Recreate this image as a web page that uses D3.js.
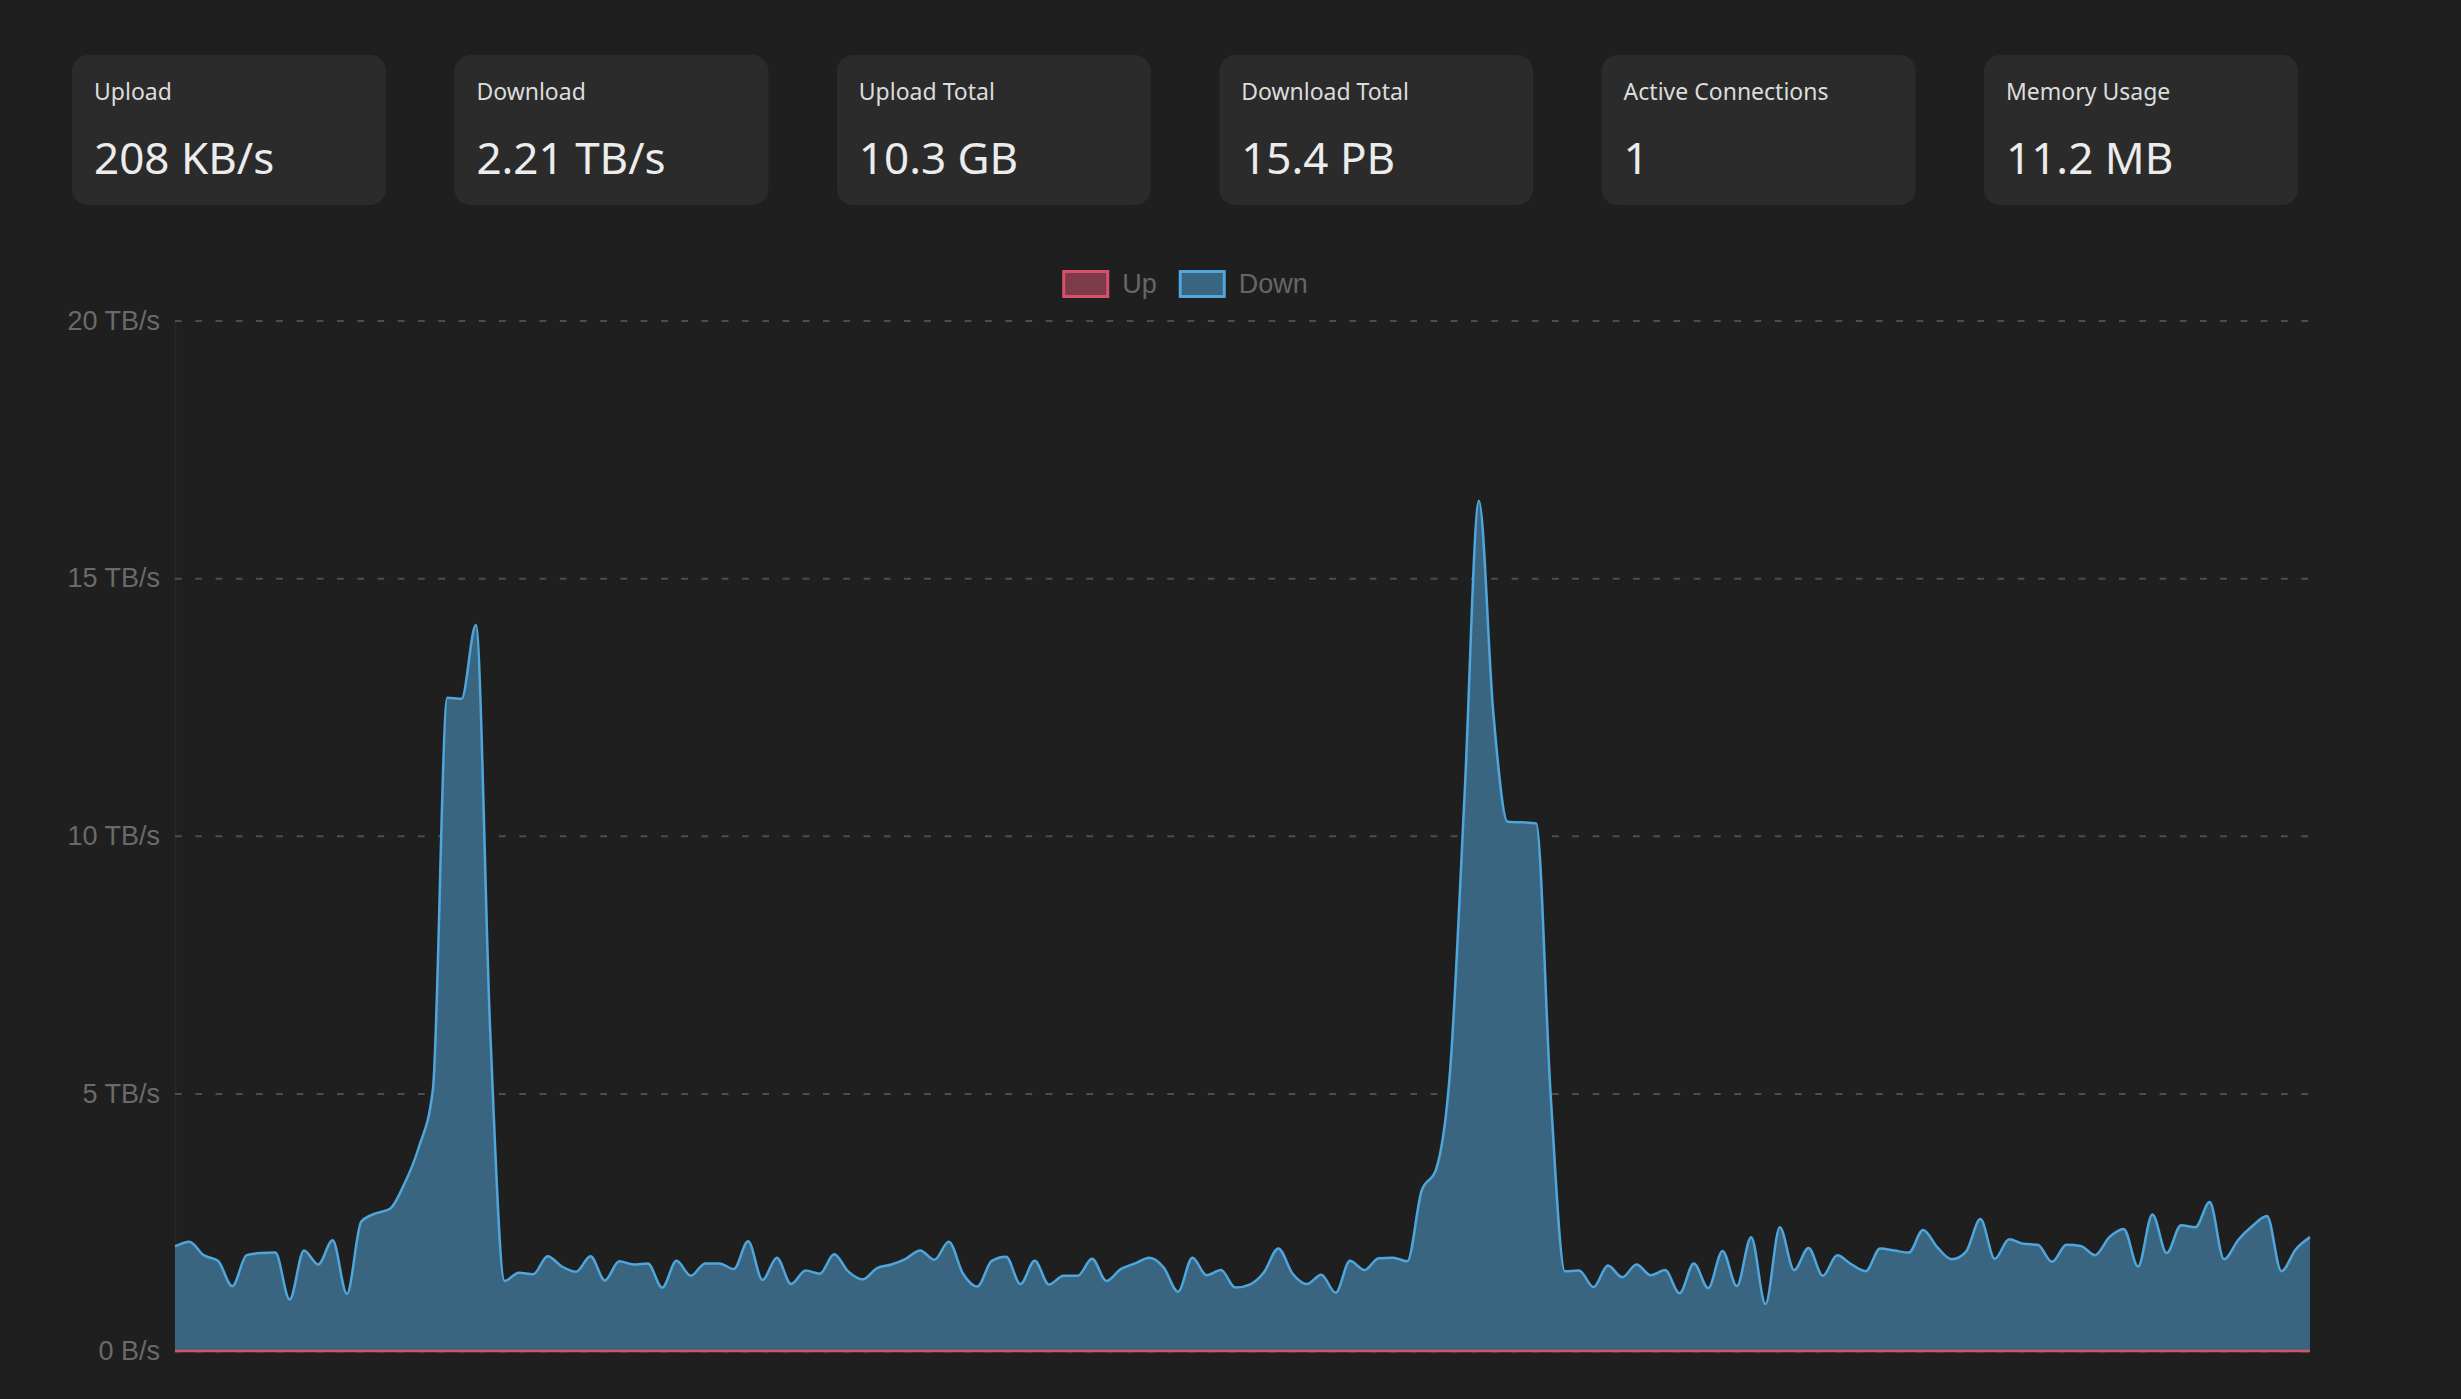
<!DOCTYPE html>
<html>
<head>
<meta charset="utf-8">
<script src="https://cdn.jsdelivr.net/npm/d3@7"></script>
<style>
  html, body { margin: 0; padding: 0; background: #1f1f1f; overflow: hidden; }
  svg { display: block; }
</style>
</head>
<body>
<svg id="chart"></svg>
<script>
// stat cards
var cardLabels = ["Upload", "Download", "Upload Total", "Download Total", "Active Connections", "Memory Usage"];
var cardValues = ["208 KB/s", "2.21 TB/s", "10.3 GB", "15.4 PB", "1", "11.2 MB"];

// legend + y ticks
var seriesNames = ["Up", "Down"];
var yTicks = [0, 5, 10, 15, 20];
var yTickLabels = ["0 B/s", "5 TB/s", "10 TB/s", "15 TB/s", "20 TB/s"];

// traffic, TB/s, one sample per step (150 samples)
var downValues = [
  2.03, 2.12, 1.86, 1.75, 1.26, 1.86, 1.90, 1.91, 1.00, 1.95, 1.68, 2.15, 1.11, 2.51, 2.67,
  2.76, 3.24, 3.94, 5.08, 12.68, 12.66, 14.09, 6.2, 1.36, 1.52, 1.49, 1.84, 1.64, 1.54, 1.84,
  1.37, 1.74, 1.68, 1.70, 1.23, 1.75, 1.46, 1.70, 1.70, 1.59, 2.13, 1.38, 1.81, 1.30, 1.56,
  1.50, 1.88, 1.54, 1.39, 1.61, 1.68, 1.79, 1.95, 1.77, 2.12, 1.50, 1.25, 1.75, 1.83, 1.30,
  1.75, 1.29, 1.46, 1.46, 1.79, 1.36, 1.59, 1.70, 1.81, 1.62, 1.15, 1.81, 1.47, 1.57, 1.23,
  1.29, 1.53, 1.99, 1.50, 1.30, 1.48, 1.13, 1.75, 1.57, 1.80, 1.81, 1.74, 3.11, 3.52, 5.48,
  10.8, 16.50, 12.4, 10.27, 10.26, 10.24, 5.0, 1.55, 1.56, 1.24, 1.66, 1.43, 1.68, 1.47, 1.57,
  1.12, 1.70, 1.22, 1.94, 1.26, 2.21, 0.91, 2.40, 1.57, 2.00, 1.46, 1.86, 1.68, 1.55, 1.99,
  1.95, 1.91, 2.35, 2.01, 1.78, 1.93, 2.56, 1.79, 2.17, 2.08, 2.06, 1.73, 2.06, 2.04, 1.86,
  2.21, 2.37, 1.64, 2.65, 1.90, 2.44, 2.40, 2.89, 1.78, 2.16, 2.43, 2.62, 1.55, 1.97, 2.21
];
// upload is in the KB/s range -> basically 0 at this scale
var upValues = [
  0, 0, 0, 0, 0, 0, 0, 0, 0, 0, 0, 0, 0, 0, 0, 0, 0, 0, 0, 0, 0, 0, 0, 0, 0, 0, 0, 0, 0, 0,
  0, 0, 0, 0, 0, 0, 0, 0, 0, 0, 0, 0, 0, 0, 0, 0, 0, 0, 0, 0, 0, 0, 0, 0, 0, 0, 0, 0, 0, 0,
  0, 0, 0, 0, 0, 0, 0, 0, 0, 0, 0, 0, 0, 0, 0, 0, 0, 0, 0, 0, 0, 0, 0, 0, 0, 0, 0, 0, 0, 0,
  0, 0, 0, 0, 0, 0, 0, 0, 0, 0, 0, 0, 0, 0, 0, 0, 0, 0, 0, 0, 0, 0, 0, 0, 0, 0, 0, 0, 0, 0,
  0, 0, 0, 0, 0, 0, 0, 0, 0, 0, 0, 0, 0, 0, 0, 0, 0, 0, 0, 0, 0, 0, 0, 0, 0, 0, 0, 0, 0, 0.000000208
];

var W = 2461, H = 1399;
var svg = d3.select("#chart").attr("width", W).attr("height", H);

var colors = {
  up:   {fill: "#7c3a4a", stroke: "#d8506c"},
  down: {fill: "#3a6580", stroke: "#4ea6dc"}
};

// ---- cards ----
var cardFont = "'Segoe UI', 'Noto Sans', 'Open Sans', sans-serif";
var cards = svg.append("g").selectAll("g")
  .data(cardLabels)
  .enter().append("g")
  .attr("transform", function(d, i) { return "translate(" + (72 + i * 382.4) + ",55)"; });

cards.append("rect")
  .attr("width", 314).attr("height", 150)
  .attr("rx", 16).attr("fill", "#2b2b2b");

cards.append("text")
  .attr("x", 22).attr("y", 45)
  .attr("font-family", cardFont).attr("font-size", 23)
  .attr("fill", "#dcdcdc")
  .text(function(d) { return d; });

cards.append("text")
  .attr("x", 22).attr("y", 119)
  .attr("font-family", cardFont).attr("font-size", 44)
  .attr("fill", "#ececec")
  .text(function(d, i) { return cardValues[i]; });

// ---- chart ----
var x = d3.scaleLinear().domain([0, downValues.length - 1]).range([175, 2310]);
var y = d3.scaleLinear().domain([0, 20]).range([1351, 320.5]);

var axisFont = "'Liberation Sans', Arial, sans-serif";

// grid
var yAxis = d3.axisLeft(y).tickValues(yTicks)
  .tickSizeInner(-(x.range()[1] - x.range()[0]))
  .tickSizeOuter(0)
  .tickPadding(15)
  .tickFormat(function(d, i) { return yTickLabels[i]; });

var gAxis = svg.append("g")
  .attr("transform", "translate(" + x.range()[0] + ",0)")
  .call(yAxis);
gAxis.select(".domain").attr("stroke", "#272727").attr("stroke-width", 2);
gAxis.selectAll(".tick line")
  .attr("stroke", "#4d4d4d")
  .attr("stroke-width", 2)
  .attr("stroke-dasharray", "6.75,13.5");
gAxis.selectAll(".tick text")
  .attr("fill", "#6a6a6a")
  .attr("font-family", axisFont)
  .attr("font-size", 27);

// areas
var area = d3.area()
  .x(function(d, i) { return x(i); })
  .y0(y(0))
  .y1(function(d) { return y(d); })
  .curve(d3.curveMonotoneX);
var line = area.lineY1();

svg.append("path").datum(downValues)
  .attr("d", area).attr("fill", colors.down.fill);
svg.append("path").datum(downValues)
  .attr("d", line).attr("fill", "none")
  .attr("stroke", colors.down.stroke).attr("stroke-width", 2.5)
  .attr("stroke-linejoin", "round");

svg.append("path").datum(upValues)
  .attr("d", area).attr("fill", colors.up.fill);
svg.append("path").datum(upValues)
  .attr("d", line).attr("fill", "none")
  .attr("stroke", colors.up.stroke).attr("stroke-width", 2.5);

// legend
var legend = svg.append("g");
var items = legend.selectAll("g").data(seriesNames).enter().append("g");
items.append("rect")
  .attr("x", 1.5).attr("y", 1.5)
  .attr("width", 44).attr("height", 25)
  .attr("fill", function(d, i) { return i === 0 ? colors.up.fill : colors.down.fill; })
  .attr("stroke", function(d, i) { return i === 0 ? colors.up.stroke : colors.down.stroke; })
  .attr("stroke-width", 3);
items.append("text")
  .attr("x", 60).attr("y", 14).attr("dy", "0.35em")
  .attr("font-family", axisFont).attr("font-size", 27)
  .attr("fill", "#666")
  .text(function(d) { return d; });

var offs = [], cur = 0;
items.each(function() {
  offs.push(cur);
  cur += 60 + this.querySelector("text").getComputedTextLength() + 22;
});
var total = cur - 22;
var lx = 1185 - total / 2;
items.attr("transform", function(d, i) { return "translate(" + (lx + offs[i]) + ",270)"; });
</script>
</body>
</html>
